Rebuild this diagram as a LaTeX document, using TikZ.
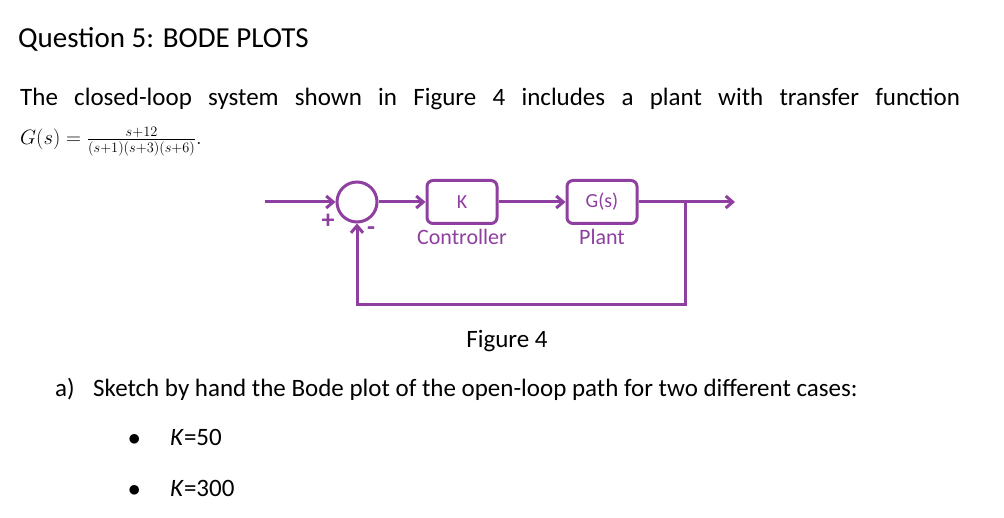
\documentclass[tikz,border=0pt]{standalone}
\usepackage{amsmath}
\usepackage{fontspec}
\setmainfont{Carlito}
\usetikzlibrary{arrows.meta}
\definecolor{blk}{HTML}{8E3FA0}
\begin{document}
\begin{tikzpicture}[x=1pt,y=-1pt,
  txt/.style={anchor=base west,inner sep=0pt,font=\fontsize{25}{30}\selectfont},
  blkbox/.style={draw=blk,line width=3pt,rounded corners=6pt,minimum width=70pt,minimum height=43pt,text=blk,font=\fontsize{20}{24}\selectfont},
  sig/.style={draw=blk,line width=3pt,-{Straight Barb[length=7pt,width=12pt]}},
  lbl/.style={text=blk,font=\fontsize{22}{26}\selectfont,inner sep=0pt}]
\useasboundingbox (0,0) rectangle (1004,518);
\node[txt,font=\fontsize{29}{34}\selectfont] (title) at (18,48) {Question 5: BODE PLOTS};
\node[txt] (l1) at (20,106) {\makebox[940pt][s]{The closed-loop system shown in Figure 4 includes a plant with transfer function}};
\node[txt,font=\fontsize{22}{26}\selectfont] (l2) at (20,145) {$G(s)=\frac{\scriptstyle s+12}{\scriptstyle (s+1)(s+3)(s+6)}.$};
% block diagram
\node[circle,draw=blk,line width=3pt,minimum size=40pt,inner sep=0pt] (sum) at (357,202) {};
\node[blkbox] (ctrl) at (462,202) {K};
\node[blkbox] (plant) at (602,202) {G(s)};
\coordinate (in) at (265,202);
\coordinate (out) at (735,202);
\coordinate (br) at (685,202);
\coordinate (fb1) at (685,305);
\coordinate (fb2) at (357,305);
\draw[sig] (in) -- (sum.west);
\draw[sig] (sum.east) -- (ctrl.west);
\draw[sig] (ctrl.east) -- (plant.west);
\draw[sig] (plant.east) -- (out);
\draw[sig] (br) -- (fb1) -- (fb2) -- (sum.south);
\node[lbl,font=\bfseries\fontsize{26}{30}\selectfont] (plus) at (328,221) {+};
\node[lbl,font=\bfseries\fontsize{26}{30}\selectfont] (minus) at (371,231) {-};
\node[lbl] (cl) at (462,237) {Controller};
\node[lbl] (pl) at (602,237) {Plant};
\node[txt,anchor=base] (fig) at (507,348) {Figure 4};
\node[txt] (a) at (55,397) {a)};
\node[txt] (at) at (93,397) {Sketch by hand the Bode plot of the open-loop path for two different cases:};
\node[txt] (b1) at (128,446) {$\bullet$};
\node[txt] (k1) at (170,446) {\textit{K}=50};
\node[txt] (b2) at (128,496) {$\bullet$};
\node[txt] (k2) at (170,496) {\textit{K}=300};
\end{tikzpicture}
\end{document}
